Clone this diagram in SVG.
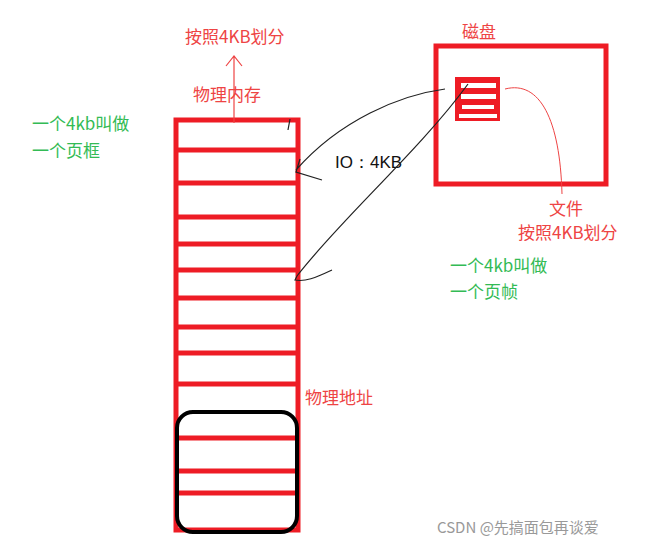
<svg xmlns="http://www.w3.org/2000/svg" width="663" height="548" viewBox="0 0 663 548">
<style>
.r{fill:none;stroke:#ee1c25;stroke-width:5}
.rl{stroke:#ee1c25;stroke-width:5}
.k{fill:none;stroke:#222;stroke-width:1.2}
.tr{font-family:"Noto Sans CJK SC",sans-serif;font-size:17px;fill:#ee4444}
.tg{font-family:"Noto Sans CJK SC",sans-serif;font-size:17px;fill:#33bb55}
</style>
<rect width="663" height="548" fill="#fff"/>
<g id="memory">
<rect class="r" x="176" y="120" width="122" height="410"/>
<g class="rl">
<line x1="176" y1="150" x2="298" y2="150"/><line x1="176" y1="183" x2="298" y2="183"/>
<line x1="176" y1="217" x2="298" y2="217"/><line x1="176" y1="244" x2="298" y2="244"/>
<line x1="176" y1="270" x2="298" y2="270"/><line x1="176" y1="298" x2="298" y2="298"/>
<line x1="176" y1="327" x2="298" y2="327"/><line x1="176" y1="353" x2="298" y2="353"/>
<line x1="176" y1="384" x2="298" y2="384"/><line x1="176" y1="438" x2="298" y2="438"/>
<line x1="176" y1="471" x2="298" y2="471"/><line x1="176" y1="493" x2="298" y2="493"/>
</g>
<rect x="177" y="412" width="120" height="120" rx="16" fill="none" stroke="#000" stroke-width="4"/>
<text class="tr" x="193" y="101">物理内存</text>
<text class="tr" x="305" y="404">物理地址</text>
</g>
<g id="disk">
<rect class="r" x="436" y="46" width="170" height="138"/>
<rect x="455" y="77" width="45" height="44" fill="#ee1c25"/>
<g fill="#fff"><rect x="461" y="83" width="35" height="5"/><rect x="461" y="94" width="35" height="5"/><rect x="462" y="105" width="32" height="4"/><rect x="459" y="114" width="38" height="4"/></g>
<text class="tr" x="462" y="38">磁盘</text>
</g>
<g id="labels">
<text class="tr" x="185" y="43">按照4KB划分</text>
<text class="tr" x="549" y="215">文件</text>
<text class="tr" x="518" y="239">按照4KB划分</text>
<text class="tg" x="32" y="130">一个4kb叫做</text>
<text class="tg" x="32" y="157">一个页框</text>
<text class="tg" x="450" y="272">一个4kb叫做</text>
<text class="tg" x="450" y="298">一个页帧</text>
<text x="335" y="168" font-family="Liberation Sans,sans-serif" font-size="17" fill="#111">IO：4KB</text>
<text x="437" y="533" font-family="Noto Sans CJK SC,sans-serif" font-size="15" fill="#999">CSDN @先搞面包再谈爱</text>
</g>
<g id="connectors">
<path d="M234 123 V56 M226 66 L234 56 L242 66" fill="none" stroke="#ee4444" stroke-width="1.2"/>
<path class="k" d="M445 89 C400 95 340 120 296 170 M300 159 L296 172 L322 180"/>
<path class="k" d="M468 84 C420 150 340 220 297 276 L295 280 C305 282 315 278 332 270"/>
<path class="k" d="M290 119 L288 130"/>
<path d="M505 89 C540 80 560 120 562 194" fill="none" stroke="#ee4444" stroke-width="1"/>
</g>
</svg>
